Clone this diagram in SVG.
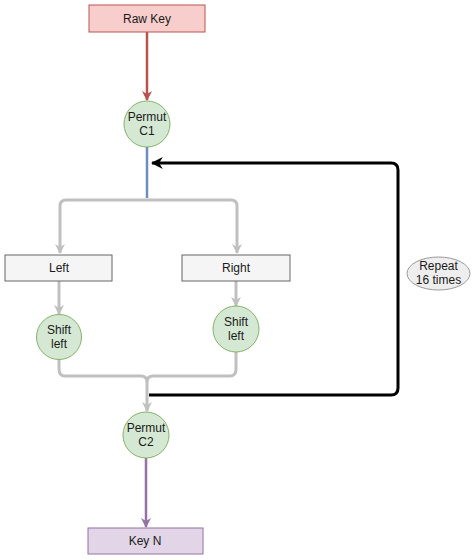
<svg xmlns="http://www.w3.org/2000/svg" width="474" height="560" viewBox="0 0 474 560">
<style>
text{font-family:"Liberation Sans",Arial,sans-serif;font-size:12px;fill:#1a1a1a;text-anchor:middle}
.circ{fill:#d5e8d4;stroke:#82b366;stroke-width:1}
.gbox{fill:#f5f5f5;stroke:#666666;stroke-width:1}
.c{fill:none;stroke-linejoin:round}
.gray{stroke:#c0c0c0;stroke-width:3}
</style>
<defs>
<marker id="aRed" markerWidth="10" markerHeight="10" refX="9" refY="5" orient="auto" markerUnits="userSpaceOnUse" viewBox="0 0 10 10"><path d="M0,0 L10,5 L0,10 L3,5 Z" fill="#b85450"/></marker>
<marker id="aGray" markerWidth="10" markerHeight="10" refX="9" refY="5" orient="auto" markerUnits="userSpaceOnUse" viewBox="0 0 10 10"><path d="M0,0 L10,5 L0,10 L3,5 Z" fill="#c0c0c0"/></marker>
<marker id="aBlack" markerWidth="12" markerHeight="12" refX="9" refY="5" orient="auto" markerUnits="userSpaceOnUse" viewBox="0 0 10 10"><path d="M0,0 L10,5 L0,10 L3,5 Z" fill="#000"/></marker>
<marker id="aPurple" markerWidth="10" markerHeight="10" refX="9" refY="5" orient="auto" markerUnits="userSpaceOnUse" viewBox="0 0 10 10"><path d="M0,0 L10,5 L0,10 L3,5 Z" fill="#9673a6"/></marker>
</defs>
<g id="connectors">
<path class="c" d="M147,32 V100" stroke="#b85450" stroke-width="2.5" marker-end="url(#aRed)"/>
<path class="c" d="M147,147 V198" stroke="#6c8ebf" stroke-width="2.5"/>
<path class="c gray" d="M147,200 H66 Q60,200 60,206 V253" marker-end="url(#aGray)"/>
<path class="c gray" d="M147,200 H231 Q237,200 237,206 V253" marker-end="url(#aGray)"/>
<path class="c gray" d="M59,281 V314" marker-end="url(#aGray)"/>
<path class="c gray" d="M236,281 V306" marker-end="url(#aGray)"/>
<path class="c gray" d="M59,360 V369 Q59,376 65,376 H141 Q147,376 147,382 V411" marker-end="url(#aGray)"/>
<path class="c gray" d="M236,352 V369 Q236,376 230,376 H153 Q147,376 147,382"/>
<path class="c" d="M149,395 H391 Q398,395 398,388 V170 Q398,163 391,163 H152" stroke="#000" stroke-width="3" marker-end="url(#aBlack)"/>
<path class="c" d="M146,458 V527" stroke="#9673a6" stroke-width="2.5" marker-end="url(#aPurple)"/>
</g>
<g id="rawkey"><rect x="89" y="5" width="116" height="27" fill="#f8cecc" stroke="#b85450"/><text x="147" y="23">Raw Key</text></g>
<g id="permutc1"><circle class="circ" cx="147" cy="124" r="23"/><text x="147" y="121">Permut</text><text x="147" y="135">C1</text></g>
<g id="left"><rect class="gbox" x="5" y="255" width="107" height="26"/><text x="59" y="272">Left</text></g>
<g id="right"><rect class="gbox" x="182" y="255" width="108" height="26"/><text x="236" y="272">Right</text></g>
<g id="shiftleft1"><circle class="circ" cx="59" cy="337" r="22.5"/><text x="59" y="334">Shift</text><text x="59" y="348">left</text></g>
<g id="shiftleft2"><circle class="circ" cx="236" cy="329" r="23"/><text x="236" y="326">Shift</text><text x="236" y="340">left</text></g>
<g id="permutc2"><circle class="circ" cx="146" cy="435" r="23"/><text x="146" y="432">Permut</text><text x="146" y="446">C2</text></g>
<g id="keyn"><rect x="88" y="528" width="115" height="26" fill="#e1d5e7" stroke="#9673a6"/><text x="145" y="545">Key N</text></g>
<g id="repeat"><ellipse cx="438.5" cy="273.5" rx="31.5" ry="16.5" fill="#eeeeee" stroke="#999999"/><text x="438.5" y="270">Repeat</text><text x="438.5" y="284">16 times</text></g>
</svg>
